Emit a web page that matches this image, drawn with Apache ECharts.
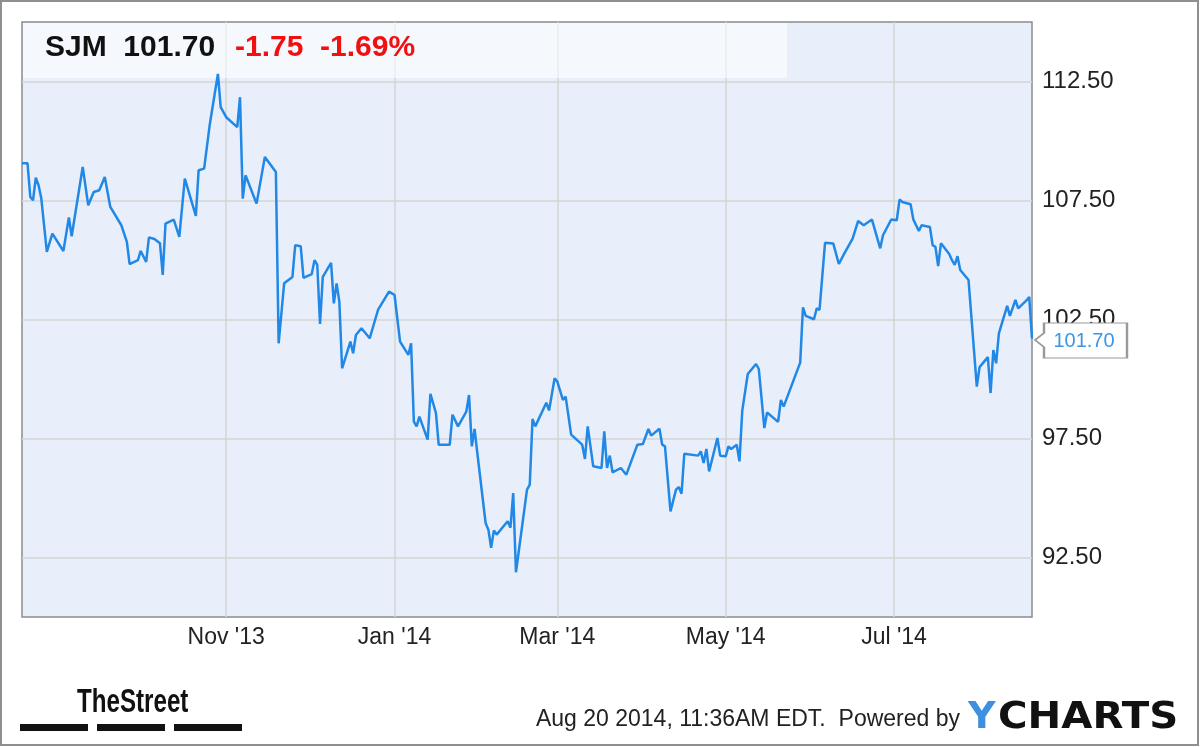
<!DOCTYPE html>
<html>
<head>
<meta charset="utf-8">
<script src="https://cdn.jsdelivr.net/npm/echarts@6/dist/echarts.min.js"></script>
<style>
  html, body { margin: 0; padding: 0; background: #ffffff; }
  #chart { width: 1200px; height: 747px; }
</style>
</head>
<body>
<div id="chart"></div>
<script>
// ---- data ----
const ticker = 'SJM';
const lastPrice = '101.70';
const change = '-1.75';
const changePct = '-1.69%';
const footerText = 'Aug 20 2014, 11:36AM EDT.  Powered by';

const dates = [
 '2013-08-19','2013-08-21','2013-08-22','2013-08-23','2013-08-24','2013-08-25','2013-08-26','2013-08-28','2013-08-30',
 '2013-09-03','2013-09-05','2013-09-06','2013-09-10','2013-09-12','2013-09-14','2013-09-16','2013-09-18','2013-09-20',
 '2013-09-24','2013-09-26','2013-09-27','2013-09-30','2013-10-01','2013-10-03','2013-10-04','2013-10-06','2013-10-08',
 '2013-10-09','2013-10-10','2013-10-13','2013-10-15','2013-10-17','2013-10-21','2013-10-22','2013-10-24','2013-10-26',
 '2013-10-29','2013-10-30','2013-11-01','2013-11-05','2013-11-06','2013-11-07','2013-11-08','2013-11-12','2013-11-15',
 '2013-11-19','2013-11-20','2013-11-22','2013-11-25','2013-11-26','2013-11-28','2013-11-29','2013-12-02','2013-12-03',
 '2013-12-04','2013-12-05','2013-12-06','2013-12-09','2013-12-10','2013-12-11','2013-12-12','2013-12-13','2013-12-16',
 '2013-12-17','2013-12-18','2013-12-20','2013-12-23','2013-12-26','2013-12-30','2014-01-01','2014-01-03','2014-01-06',
 '2014-01-07','2014-01-08','2014-01-09','2014-01-10','2014-01-13','2014-01-14','2014-01-16','2014-01-17','2014-01-21',
 '2014-01-22','2014-01-24','2014-01-27','2014-01-28','2014-01-29','2014-01-30','2014-01-31','2014-02-03','2014-02-04',
 '2014-02-05','2014-02-06','2014-02-07','2014-02-11','2014-02-12','2014-02-13','2014-02-14','2014-02-18','2014-02-19',
 '2014-02-20','2014-02-21','2014-02-25','2014-02-26','2014-02-28','2014-03-01','2014-03-03','2014-03-04','2014-03-06',
 '2014-03-10','2014-03-11','2014-03-12','2014-03-14','2014-03-17','2014-03-18','2014-03-19','2014-03-20','2014-03-21',
 '2014-03-24','2014-03-26','2014-03-28','2014-03-30','2014-04-01','2014-04-03','2014-04-04','2014-04-07','2014-04-08',
 '2014-04-09','2014-04-11','2014-04-13','2014-04-14','2014-04-15','2014-04-16','2014-04-21','2014-04-22','2014-04-23',
 '2014-04-24','2014-04-25','2014-04-28','2014-04-29','2014-05-01','2014-05-02','2014-05-03','2014-05-05','2014-05-06',
 '2014-05-07','2014-05-09','2014-05-12','2014-05-13','2014-05-15','2014-05-16','2014-05-20','2014-05-21','2014-05-22',
 '2014-05-28','2014-05-29','2014-05-30','2014-06-02','2014-06-03','2014-06-04','2014-06-06','2014-06-09','2014-06-11',
 '2014-06-13','2014-06-16','2014-06-18','2014-06-20','2014-06-23','2014-06-26','2014-06-27','2014-06-30','2014-07-02',
 '2014-07-03','2014-07-04','2014-07-07','2014-07-08','2014-07-10','2014-07-11','2014-07-14','2014-07-15','2014-07-16',
 '2014-07-17','2014-07-18','2014-07-21','2014-07-22','2014-07-23','2014-07-24','2014-07-25','2014-07-28','2014-07-31',
 '2014-08-01','2014-08-04','2014-08-05','2014-08-06','2014-08-07','2014-08-08','2014-08-11','2014-08-12','2014-08-14',
 '2014-08-15','2014-08-18','2014-08-19','2014-08-20'
];
const prices = [
 109.07,109.07,107.65,107.51,108.46,108.14,107.58,105.34,106.11,
 105.38,106.79,106.00,108.91,107.30,107.86,107.93,108.49,107.23,
 106.46,105.76,104.83,104.99,105.38,104.92,105.95,105.88,105.70,
 104.37,106.53,106.70,105.97,108.42,106.85,108.77,108.84,110.66,
 112.82,111.42,111.00,110.58,111.84,107.58,108.56,107.37,109.33,
 108.70,101.50,104.02,104.29,105.62,105.58,104.25,104.41,104.99,
 104.79,102.31,104.29,104.88,103.18,104.02,103.25,100.45,101.57,
 101.08,101.85,102.13,101.71,102.90,103.67,103.53,101.57,101.01,
 101.50,98.21,98.01,98.42,97.45,99.38,98.57,97.24,97.24,
 98.50,98.01,98.63,99.33,97.17,97.90,96.89,93.95,93.67,
 92.91,93.64,93.46,94.02,93.75,95.21,91.88,95.35,95.56,
 98.32,98.01,99.00,98.68,100.03,99.89,99.12,99.26,97.66,
 97.24,96.64,98.01,96.33,96.26,97.80,96.26,96.78,96.08,
 96.26,95.98,96.61,97.24,97.27,97.90,97.62,97.91,97.24,
 97.17,94.44,95.35,95.46,95.18,96.86,96.78,96.96,96.47,
 97.06,96.12,97.52,96.78,96.75,97.17,97.06,97.24,96.54,
 98.66,100.21,100.63,100.42,97.94,98.59,98.20,99.12,98.84,
 100.69,103.01,102.65,102.51,102.97,102.90,105.72,105.69,104.83,
 105.28,105.90,106.64,106.46,106.70,105.49,106.04,106.70,106.67,
 107.54,107.44,107.34,106.70,106.22,106.46,106.39,105.62,105.55,
 104.74,105.70,105.25,104.99,104.79,105.16,104.58,104.16,99.68,
 100.50,100.92,99.41,101.22,100.66,101.92,103.07,102.65,103.32,
 102.97,103.30,103.45,101.70
];
const yTicks = [92.5, 97.5, 102.5, 107.5, 112.5];
const xTickDates = ['2013-11-01', '2014-01-01', '2014-03-01', '2014-05-01', '2014-07-01'];
const xTickLabels = ["Nov '13", "Jan '14", "Mar '14", "May '14", "Jul '14"];
const xMin = '2013-08-19';
const xMax = '2014-08-20';

// ---- helpers ----
function toTs(s) { const p = s.split('-').map(Number); return Date.UTC(p[0], p[1] - 1, p[2]); }
const xTickTs = xTickDates.map(toTs);
const seriesData = dates.map((d, i) => [toTs(d), prices[i]]);
const lastIdx = dates.length - 1;

const FONT = "'Liberation Sans', Arial, Helvetica, sans-serif";
const chart = echarts.init(document.getElementById('chart'), null, { renderer: 'canvas' });

chart.setOption({
  animation: false,
  backgroundColor: '#ffffff',
  grid: {
    left: 22, top: 22, right: 168, bottom: 130,
    show: true, backgroundColor: '#E8EFFB', borderColor: '#8c8c8c', borderWidth: 1.5,
    containLabel: false
  },
  xAxis: {
    type: 'value',
    min: toTs(xMin), max: toTs(xMax),
    axisLine: { show: false },
    axisTick: { show: false, customValues: xTickTs },
    axisLabel: {
      customValues: xTickTs,
      margin: 9,
      color: '#222', fontSize: 23, fontFamily: FONT,
      formatter: function (v) {
        let best = 0, bd = Infinity;
        xTickTs.forEach((t, i) => { const dd = Math.abs(t - v); if (dd < bd) { bd = dd; best = i; } });
        return xTickLabels[best];
      }
    },
    splitLine: { show: true, lineStyle: { color: '#d5d5d5', width: 1.5 } }
  },
  yAxis: {
    type: 'value',
    position: 'right',
    min: 90, max: 115,
    axisLine: { show: false },
    axisTick: { show: false, customValues: yTicks },
    axisLabel: {
      customValues: yTicks,
      margin: 10,
      color: '#222', fontSize: 24, fontFamily: FONT,
      formatter: v => v.toFixed(2)
    },
    splitLine: { show: true, lineStyle: { color: '#d5d5d5', width: 1.5 } }
  },
  graphic: [
    { type: 'rect', z: 1, silent: true, shape: { x: 23, y: 23, width: 764, height: 55 },
      style: { fill: 'rgba(255,255,255,0.55)' } },
    { type: 'rect', z: 100, silent: true, shape: { x: 1, y: 1, width: 1197, height: 744 },
      style: { fill: 'none', stroke: '#8f8f8f', lineWidth: 2 } },
    { type: 'text', z: 10, left: 45, top: 33,
      style: { text: ticker + '  ' + lastPrice, font: 'bold 30px ' + FONT, fill: '#111' } },
    { type: 'text', z: 10, left: 235, top: 33,
      style: { text: change + '  ' + changePct, font: 'bold 30px ' + FONT, fill: '#f01010' } },
    { type: 'text', z: 10, x: 77, y: 686, scaleX: 0.71, scaleY: 1,
      style: { text: 'TheStreet', font: 'bold 34px ' + FONT, fill: '#111' } },
    { type: 'rect', z: 10, shape: { x: 20, y: 724, width: 68, height: 7 }, style: { fill: '#111' } },
    { type: 'rect', z: 10, shape: { x: 97, y: 724, width: 68, height: 7 }, style: { fill: '#111' } },
    { type: 'rect', z: 10, shape: { x: 174, y: 724, width: 68, height: 7 }, style: { fill: '#111' } },
    { type: 'text', z: 10, right: 240, top: 708,
      style: { text: footerText, font: '23px ' + FONT, fill: '#222' } },
    { type: 'text', z: 10, left: 968, top: 699,
      style: { text: 'Y', font: "bold 38px 'DejaVu Sans', " + FONT, fill: '#3d8fe0' } },
    { type: 'text', z: 10, x: 998, y: 699, scaleX: 1.06, scaleY: 1,
      style: { text: 'CHARTS', font: "bold 38px 'DejaVu Sans', " + FONT, fill: '#111' } }
  ],
  series: [{
    type: 'line',
    data: seriesData,
    showSymbol: false,
    symbol: 'none',
    clip: true,
    lineStyle: { color: '#2188E6', width: 2.5 },
    markPoint: {
      silent: true,
      symbol: 'path://M0,17 L9,10 L9,0 L92,0 L92,35 L9,35 L9,24 Z',
      symbolSize: [92, 35],
      symbolKeepAspect: false,
      symbolOffset: [49, 2],
      itemStyle: { color: '#ffffff', borderColor: '#999999', borderWidth: 1.5 },
      label: {
        show: true, position: 'inside', offset: [3, 1],
        formatter: lastPrice, color: '#3b96e8', fontSize: 20, fontFamily: FONT
      },
      data: [{ coord: [toTs(dates[lastIdx]), prices[lastIdx]] }]
    }
  }]
});
</script>
</body>
</html>
